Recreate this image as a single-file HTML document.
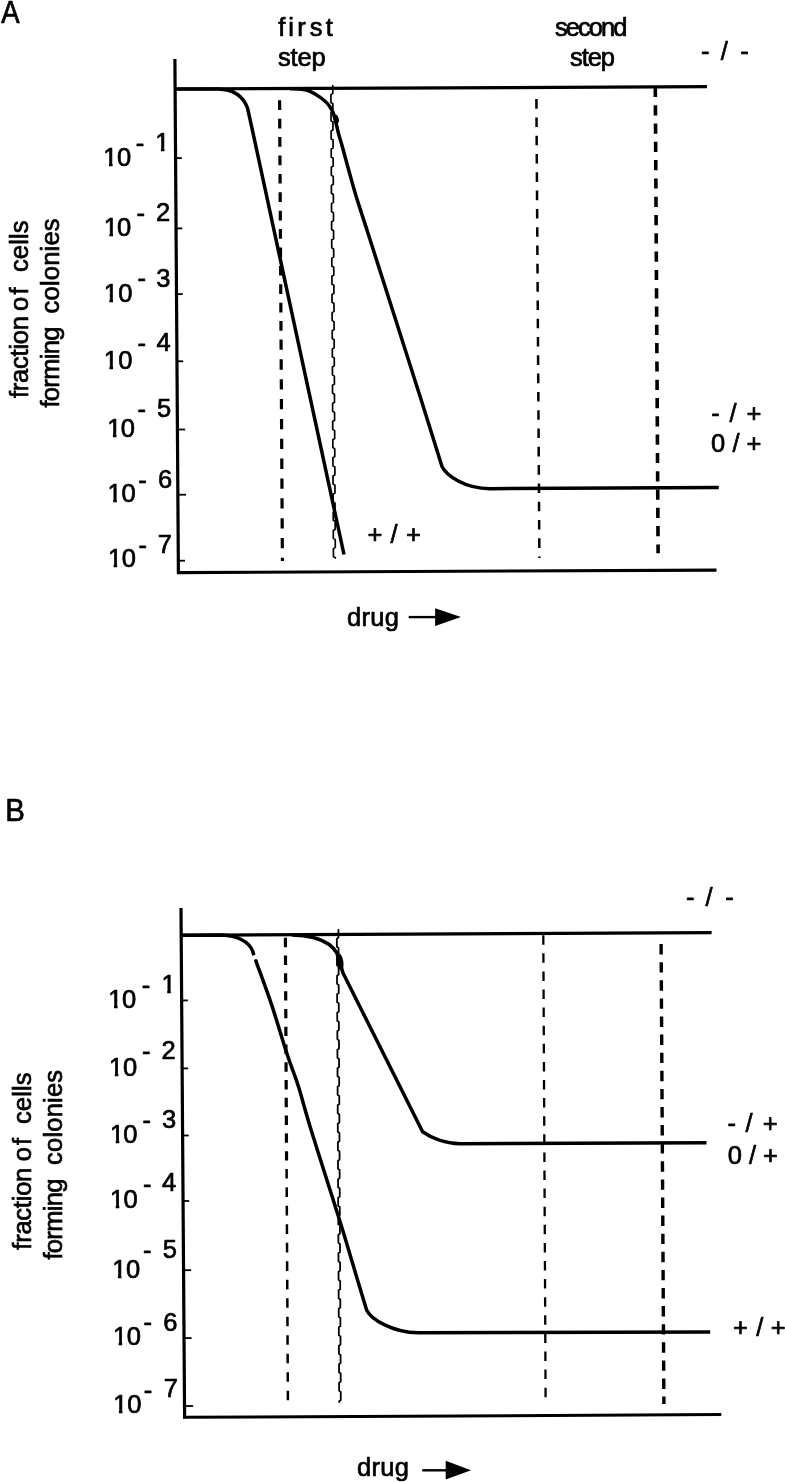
<!DOCTYPE html>
<html lang="en"><head><meta charset="utf-8"><title>Figure</title>
<style>
html,body{margin:0;padding:0;background:#fff;}
body{width:785px;height:1482px;overflow:hidden;}
svg{display:block;}
svg text{font-family:"Liberation Sans", Arial, Helvetica, sans-serif;fill:#000;stroke:#000;stroke-width:0.7px;stroke-linejoin:round;}
svg line,svg path{stroke:#000;}
</style></head>
<body>
<svg width="785" height="1482" viewBox="0 0 785 1482">
<rect x="0" y="0" width="785" height="1482" fill="#fff" stroke="none"/>
<text transform="translate(1.2 22.6) scale(0.86 1)" font-size="32">A</text>
<line x1="174.9" y1="59" x2="178.4" y2="573.5" stroke-width="3.2"/>
<line x1="175" y1="89" x2="707" y2="86.7" stroke-width="3.2"/>
<line x1="177" y1="572.6" x2="716.5" y2="570.1" stroke-width="3.1"/>
<line x1="175.7" y1="158.1" x2="181.8" y2="158.1" stroke-width="1.8"/>
<line x1="176.2" y1="228.4" x2="182.3" y2="228.4" stroke-width="1.8"/>
<line x1="176.6" y1="294.1" x2="182.7" y2="294.1" stroke-width="1.8"/>
<line x1="177.1" y1="361.3" x2="183.2" y2="361.3" stroke-width="1.8"/>
<line x1="177.5" y1="429.5" x2="185.1" y2="429.5" stroke-width="1.8"/>
<line x1="178.0" y1="494.7" x2="186.1" y2="494.7" stroke-width="1.8"/>
<line x1="178.4" y1="560.7" x2="185.0" y2="560.7" stroke-width="1.8"/>
<text x="103.3" y="165.5" font-size="25.5" textLength="27.9" lengthAdjust="spacing">10</text>
<rect x="102.80" y="162.10" width="6.20" height="5.20" fill="#fff" stroke="none"/>
<rect x="112.60" y="162.10" width="4.40" height="5.20" fill="#fff" stroke="none"/>
<text x="135.8" y="151.6" font-size="25.5">-</text>
<text x="155.2" y="150.5" font-size="25.5">1</text>
<rect x="154.70" y="147.10" width="6.20" height="5.20" fill="#fff" stroke="none"/>
<rect x="164.50" y="147.10" width="5.00" height="5.20" fill="#fff" stroke="none"/>
<text x="103.7" y="235.5" font-size="25.5" textLength="27.5" lengthAdjust="spacing">10</text>
<rect x="103.20" y="232.10" width="6.20" height="5.20" fill="#fff" stroke="none"/>
<rect x="113.00" y="232.10" width="4.40" height="5.20" fill="#fff" stroke="none"/>
<text x="136.4" y="221.6" font-size="25.5">-</text>
<text x="156.1" y="220.5" font-size="25.5">2</text>
<text x="103.7" y="301.8" font-size="25.5" textLength="28.8" lengthAdjust="spacing">10</text>
<rect x="103.20" y="298.40" width="6.20" height="5.20" fill="#fff" stroke="none"/>
<rect x="113.00" y="298.40" width="4.40" height="5.20" fill="#fff" stroke="none"/>
<text x="137.4" y="287.3" font-size="25.5">-</text>
<text x="156.2" y="287.0" font-size="25.5">3</text>
<text x="103.7" y="369.0" font-size="25.5" textLength="28.8" lengthAdjust="spacing">10</text>
<rect x="103.20" y="365.60" width="6.20" height="5.20" fill="#fff" stroke="none"/>
<rect x="113.00" y="365.60" width="4.40" height="5.20" fill="#fff" stroke="none"/>
<text x="137.4" y="352.3" font-size="25.5">-</text>
<text x="156.6" y="351.1" font-size="25.5">4</text>
<text x="107.2" y="436.5" font-size="25.5" textLength="27.8" lengthAdjust="spacing">10</text>
<rect x="106.70" y="433.10" width="6.20" height="5.20" fill="#fff" stroke="none"/>
<rect x="116.50" y="433.10" width="4.40" height="5.20" fill="#fff" stroke="none"/>
<text x="137.6" y="417.6" font-size="25.5">-</text>
<text x="157.0" y="417.0" font-size="25.5">5</text>
<text x="107.5" y="501.9" font-size="25.5" textLength="28.1" lengthAdjust="spacing">10</text>
<rect x="107.00" y="498.50" width="6.20" height="5.20" fill="#fff" stroke="none"/>
<rect x="116.80" y="498.50" width="4.40" height="5.20" fill="#fff" stroke="none"/>
<text x="138.2" y="488.7" font-size="25.5">-</text>
<text x="158.0" y="487.5" font-size="25.5">6</text>
<text x="107.9" y="567.4" font-size="25.5" textLength="28.1" lengthAdjust="spacing">10</text>
<rect x="107.40" y="564.00" width="6.20" height="5.20" fill="#fff" stroke="none"/>
<rect x="117.20" y="564.00" width="4.40" height="5.20" fill="#fff" stroke="none"/>
<text x="138.5" y="553.9" font-size="25.5">-</text>
<text x="157.8" y="553.1" font-size="25.5">7</text>
<path d="M176,89 L218,88.9 C232,89.2 243,95.5 247.5,108 L251.2,124.6 L344,554.5" stroke-width="3.5" fill="none" stroke-linejoin="round" stroke-linecap="butt"/>
<path d="M290,88.7 C292.0,88.8 298.7,88.9 302.0,89.3 C305.3,89.7 307.1,90.1 310.0,91.3 C312.9,92.5 316.4,94.7 319.2,96.6 C322.0,98.5 324.6,100.6 326.8,102.9 C329.0,105.2 330.8,107.8 332.2,110.6 C333.6,113.4 334.1,115.9 335.2,119.7 C336.2,123.5 337.2,128.7 338.5,133.5 C339.8,138.3 341.3,143.0 342.9,148.8 C344.5,154.6 346.0,160.4 348.2,168.2 C350.4,176.0 352.6,184.6 355.9,195.5 C359.2,206.4 362.5,216.0 368.1,233.5 C373.7,251.0 380.6,272.8 389.5,300.5 C398.4,328.2 412.4,372.3 421.2,400.0 C429.9,427.7 438.5,455.5 442.0,466.6 C446,475 464,488.6 490,488.7 L718.8,487.5" stroke-width="3.5" fill="none" stroke-linejoin="round" stroke-linecap="butt"/>
<ellipse cx="336.2" cy="119" rx="2.5" ry="4.5" fill="#000" stroke="none" transform="rotate(-15 336.2 119)"/>
<line x1="279.6" y1="100.3" x2="281.05" y2="339.5" stroke-width="3.2" stroke-dasharray="9.7 8.7"/>
<line x1="281.05" y1="339.5" x2="282.4" y2="560.9" stroke-width="3.2" stroke-dasharray="10.3 9.55"/>
<polyline points="332.76,85.6 332.80,93.4 330.91,94.6 330.95,102.5 332.86,103.7 332.90,111.6 331.01,112.8 331.05,120.7 332.96,121.9 333.00,129.8 331.11,131.0 331.15,138.8 333.06,140.0 333.10,147.9 331.20,149.1 331.25,157.0 333.15,158.2 333.20,166.1 331.30,167.3 331.35,175.2 333.25,176.4 333.30,184.2 331.40,185.4 331.45,193.3 333.35,194.5 333.40,202.4 331.50,203.6 331.55,211.5 333.45,212.7 333.50,220.6 331.60,221.8 331.65,229.6 333.55,230.8 333.60,238.7 331.70,239.9 331.75,247.8 333.65,249.0 333.70,256.9 331.80,258.1 331.85,266.0 333.75,267.2 333.80,275.0 331.90,276.2 331.95,284.1 333.85,285.3 333.90,293.2 332.00,294.4 332.05,302.3 333.95,303.5 334.00,311.4 332.10,312.6 332.15,320.4 334.05,321.6 334.10,329.5 332.20,330.7 332.25,338.6 334.15,339.8 334.20,347.7 332.30,348.9 332.35,356.8 334.25,358.0 334.30,365.8 332.40,367.0 332.45,374.9 334.35,376.1 334.39,384.0 332.50,385.2 332.54,393.1 334.45,394.3 334.49,402.2 332.60,403.4 332.64,411.2 334.55,412.4 334.59,420.3 332.70,421.5 332.74,429.4 334.65,430.6 334.69,438.5 332.80,439.7 332.84,447.6 334.75,448.8 334.79,456.6 332.90,457.8 332.94,465.7 334.85,466.9 334.89,474.8 333.00,476.0 333.04,483.9 334.95,485.1 334.99,493.0 333.10,494.2 333.14,502.0 335.05,503.2 335.09,511.1 333.20,512.3 333.24,520.2 335.15,521.4 335.19,529.3 333.30,530.5 333.34,538.4 335.25,539.6 335.29,547.4 333.40,548.6 333.44,556.5 335.35,557.7 335.35,557.9" stroke-width="1.7" fill="none" stroke="#000" stroke-linejoin="round" stroke-linecap="round"/>
<line x1="536.4" y1="99.1" x2="539.4" y2="558" stroke-width="2.5" stroke-dasharray="9.6 8.7"/>
<line x1="655.3" y1="86.9" x2="658.1" y2="553.3" stroke-width="3.6" stroke-dasharray="10.2 8.1"/>
<text font-size="25.5" y="35.6" x="278.2 288.2 297.2 309.7 325.8">first</text>
<text x="278" y="65.7" font-size="25.5" textLength="47.7" lengthAdjust="spacing">step</text>
<text x="555" y="36.2" font-size="25.5" textLength="72.5" lengthAdjust="spacing">second</text>
<text x="570" y="65.8" font-size="25.5" textLength="45" lengthAdjust="spacing">step</text>
<text font-size="25.5" y="60" x="701 714 720.8 730 740.2">- / -</text>
<text font-size="25.5" y="422" x="711.3 722 729.5 740 746.6">- / +</text>
<text font-size="25.5" y="451.8" x="710.9 725 732.5 742 746.6">0 / +</text>
<text font-size="25.5" y="543" x="367.6 382 390.4 400 405.9">+ / +</text>
<text x="347" y="625.5" font-size="25.5" textLength="52" lengthAdjust="spacing">drug</text>
<line x1="408.7" y1="617.1" x2="437" y2="617.1" stroke-width="2.4"/>
<polygon points="435.1,608.3 461,617.1 435.1,626.1" fill="#000" stroke="none"/>
<text transform="translate(27.5 398) rotate(-90)" font-size="25.5" textLength="82" lengthAdjust="spacing">fraction</text>
<text transform="translate(27.5 311) rotate(-90)" font-size="25.5" textLength="23.5" lengthAdjust="spacing">of</text>
<text transform="translate(27.5 272) rotate(-90)" font-size="25.5" textLength="51.5" lengthAdjust="spacing">cells</text>
<text transform="translate(58.6 407.6) rotate(-90)" font-size="25.5" textLength="81" lengthAdjust="spacing">forming</text>
<text transform="translate(58.6 313.4) rotate(-90)" font-size="25.5" textLength="95" lengthAdjust="spacing">colonies</text>
<text transform="translate(5.2 821.3) scale(0.92 1)" font-size="32">B</text>
<line x1="181" y1="908" x2="184.6" y2="1418.5" stroke-width="3.2"/>
<line x1="181" y1="935.3" x2="711.6" y2="932.6" stroke-width="3.2"/>
<line x1="183" y1="1417.3" x2="721.3" y2="1414.6" stroke-width="3.0"/>
<line x1="181.7" y1="1000.4" x2="187.8" y2="1000.4" stroke-width="1.8"/>
<line x1="182.1" y1="1068.4" x2="188.2" y2="1068.4" stroke-width="1.8"/>
<line x1="182.6" y1="1135.5" x2="188.7" y2="1135.5" stroke-width="1.8"/>
<line x1="183.1" y1="1201" x2="189.2" y2="1201" stroke-width="1.8"/>
<line x1="183.6" y1="1270.2" x2="191.2" y2="1270.2" stroke-width="1.8"/>
<line x1="184.0" y1="1338.1" x2="191.6" y2="1338.1" stroke-width="1.8"/>
<line x1="184.5" y1="1406" x2="193.1" y2="1406" stroke-width="1.8"/>
<text x="108.3" y="1007.7" font-size="25.5" textLength="27.9" lengthAdjust="spacing">10</text>
<rect x="107.80" y="1004.30" width="6.20" height="5.20" fill="#fff" stroke="none"/>
<rect x="117.60" y="1004.30" width="4.40" height="5.20" fill="#fff" stroke="none"/>
<text x="141.8" y="993.9" font-size="25.5">-</text>
<text x="161.5" y="993.3" font-size="25.5">1</text>
<rect x="161.00" y="989.90" width="6.20" height="5.20" fill="#fff" stroke="none"/>
<rect x="170.80" y="989.90" width="5.00" height="5.20" fill="#fff" stroke="none"/>
<text x="109.1" y="1076.1" font-size="25.5" textLength="28.1" lengthAdjust="spacing">10</text>
<rect x="108.60" y="1072.70" width="6.20" height="5.20" fill="#fff" stroke="none"/>
<rect x="118.40" y="1072.70" width="4.40" height="5.20" fill="#fff" stroke="none"/>
<text x="142.1" y="1060.1" font-size="25.5">-</text>
<text x="161.6" y="1059.0" font-size="25.5">2</text>
<text x="110.0" y="1143.2" font-size="25.5" textLength="27.4" lengthAdjust="spacing">10</text>
<rect x="109.50" y="1139.80" width="6.20" height="5.20" fill="#fff" stroke="none"/>
<rect x="119.30" y="1139.80" width="4.40" height="5.20" fill="#fff" stroke="none"/>
<text x="142.5" y="1128.7" font-size="25.5">-</text>
<text x="162.0" y="1128.4" font-size="25.5">3</text>
<text x="110.0" y="1208.1" font-size="25.5" textLength="27.7" lengthAdjust="spacing">10</text>
<rect x="109.50" y="1204.70" width="6.20" height="5.20" fill="#fff" stroke="none"/>
<rect x="119.30" y="1204.70" width="4.40" height="5.20" fill="#fff" stroke="none"/>
<text x="142.9" y="1192.6" font-size="25.5">-</text>
<text x="162.0" y="1191.2" font-size="25.5">4</text>
<text x="112.2" y="1277.5" font-size="25.5" textLength="28.0" lengthAdjust="spacing">10</text>
<rect x="111.70" y="1274.10" width="6.20" height="5.20" fill="#fff" stroke="none"/>
<rect x="121.50" y="1274.10" width="4.40" height="5.20" fill="#fff" stroke="none"/>
<text x="143.1" y="1259.2" font-size="25.5">-</text>
<text x="162.8" y="1258.1" font-size="25.5">5</text>
<text x="112.9" y="1345.0" font-size="25.5" textLength="28.1" lengthAdjust="spacing">10</text>
<rect x="112.40" y="1341.60" width="6.20" height="5.20" fill="#fff" stroke="none"/>
<rect x="122.20" y="1341.60" width="4.40" height="5.20" fill="#fff" stroke="none"/>
<text x="143.4" y="1330.9" font-size="25.5">-</text>
<text x="163.3" y="1330.5" font-size="25.5">6</text>
<text x="113.2" y="1412.6" font-size="25.5" textLength="28.3" lengthAdjust="spacing">10</text>
<rect x="112.70" y="1409.20" width="6.20" height="5.20" fill="#fff" stroke="none"/>
<rect x="122.50" y="1409.20" width="4.40" height="5.20" fill="#fff" stroke="none"/>
<text x="143.8" y="1398.8" font-size="25.5">-</text>
<text x="163.8" y="1397.3" font-size="25.5">7</text>
<path d="M182,935.2 L222,935.1 C236,935.5 249,941 252.8,951.5 L253.8,955.2" stroke-width="3.5" fill="none" stroke-linejoin="round" stroke-linecap="butt"/>
<path d="M255.9,961.0 C256.2,961.8 254.9,958.2 257.6,965.6 C260.3,973.0 267.3,991.7 271.9,1005.6 C276.5,1019.5 282.1,1038.8 285.4,1049.0 C288.7,1059.2 289.2,1060.3 291.5,1066.8 C293.8,1073.3 295.7,1077.5 299.0,1088.2 C302.3,1098.9 304.8,1109.5 311.4,1131.0 C318.0,1152.5 331.8,1195.2 338.7,1217.2 C345.6,1239.2 347.9,1247.5 352.5,1263.0 C357.1,1278.5 364.2,1302.1 366.6,1309.9 C371,1319 392,1332.6 418,1332.8 L710.2,1332.1" stroke-width="3.5" fill="none" stroke-linejoin="round" stroke-linecap="butt"/>
<path d="M292,934.9 C308,935.2 320,938 329.2,944.5 C332,946.5 334.5,949.5 336.5,952.5 L339.6,961 L342.9,972.8 L422.6,1131.8 C430,1137 444,1143.6 460,1143.8 L706.5,1142.8" stroke-width="3.5" fill="none" stroke-linejoin="round" stroke-linecap="butt"/>
<ellipse cx="340" cy="962" rx="3.4" ry="8.5" transform="rotate(-8 340 962)" fill="#000" stroke="none"/>
<line x1="285.4" y1="937.8" x2="286.6" y2="1168.9" stroke-width="3.2" stroke-dasharray="9.4 8.38"/>
<line x1="286.6" y1="1168.9" x2="287.9" y2="1401" stroke-width="2.5" stroke-dasharray="9.6 8.88"/>
<polyline points="338.40,929.8 338.44,937.5 336.85,938.7 336.89,946.7 338.49,947.9 338.53,956.0 336.94,957.2 336.98,965.2 338.59,966.4 338.63,974.5 337.03,975.7 337.07,983.7 338.68,984.9 338.72,993.0 337.13,994.2 337.17,1002.2 338.77,1003.4 338.82,1011.5 337.22,1012.7 337.26,1020.7 338.87,1021.9 338.91,1030.0 337.32,1031.2 337.36,1039.2 338.96,1040.4 339.00,1048.5 337.41,1049.7 337.45,1057.8 339.06,1058.9 339.10,1067.0 337.50,1068.2 337.54,1076.2 339.15,1077.4 339.19,1085.5 337.60,1086.7 337.64,1094.8 339.24,1095.9 339.29,1104.0 337.69,1105.2 337.73,1113.2 339.34,1114.4 339.38,1122.5 337.79,1123.7 337.83,1131.8 339.43,1132.9 339.47,1141.0 337.88,1142.2 337.92,1150.2 339.53,1151.4 339.57,1159.5 337.97,1160.7 338.01,1168.8 339.62,1169.9 339.66,1178.0 338.07,1179.2 338.11,1187.2 339.71,1188.4 339.76,1196.5 338.16,1197.7 338.20,1205.8 339.81,1206.9 339.85,1215.0 338.26,1216.2 338.30,1224.2 339.90,1225.4 339.94,1233.5 338.35,1234.7 338.39,1242.8 340.00,1243.9 340.04,1252.0 338.44,1253.2 338.48,1261.2 340.09,1262.4 340.13,1270.5 338.54,1271.7 338.58,1279.8 340.18,1280.9 340.23,1289.0 338.63,1290.2 338.67,1298.2 340.28,1299.4 340.32,1307.5 338.73,1308.7 338.77,1316.8 340.37,1317.9 340.41,1326.0 338.82,1327.2 338.86,1335.2 340.47,1336.4 340.51,1344.5 338.91,1345.7 338.95,1353.8 340.56,1354.9 340.60,1363.0 339.01,1364.2 339.05,1372.2 340.65,1373.4 340.70,1381.5 339.10,1382.7 339.14,1390.8 340.75,1391.9 340.79,1400.0 339.20,1401.2 339.20,1402.0" stroke-width="1.8" fill="none" stroke="#000" stroke-linejoin="round" stroke-linecap="round"/>
<line x1="543.3" y1="935.2" x2="545.6" y2="1399" stroke-width="2.3" stroke-dasharray="9.5 8.6"/>
<line x1="661.1" y1="944.1" x2="663.9" y2="1404" stroke-width="3.4" stroke-dasharray="10.4 7.7"/>
<text font-size="25.5" y="906" x="686 699 705.5 715 725.2">- / -</text>
<text font-size="25.5" y="1132.3" x="727.5 738 745.5 756 762.8">- / +</text>
<text font-size="25.5" y="1164" x="727.7 741 749 759 763">0 / +</text>
<text font-size="25.5" y="1336" x="733 748 756.2 766 770.8">+ / +</text>
<text x="357" y="1476.2" font-size="25.5" textLength="52" lengthAdjust="spacing">drug</text>
<line x1="422.2" y1="1470.3" x2="447" y2="1470.3" stroke-width="2.4"/>
<polygon points="445.7,1460.7 471,1470.2 445.7,1479.5" fill="#000" stroke="none"/>
<text transform="translate(30.5 1249.7) rotate(-90)" font-size="25.5" textLength="82" lengthAdjust="spacing">fraction</text>
<text transform="translate(30.5 1161.3) rotate(-90)" font-size="25.5" textLength="23.5" lengthAdjust="spacing">of</text>
<text transform="translate(30.5 1124) rotate(-90)" font-size="25.5" textLength="51.5" lengthAdjust="spacing">cells</text>
<text transform="translate(61.8 1259.6) rotate(-90)" font-size="25.5" textLength="81" lengthAdjust="spacing">forming</text>
<text transform="translate(61.8 1164.9) rotate(-90)" font-size="25.5" textLength="95" lengthAdjust="spacing">colonies</text>
</svg>
</body></html>
